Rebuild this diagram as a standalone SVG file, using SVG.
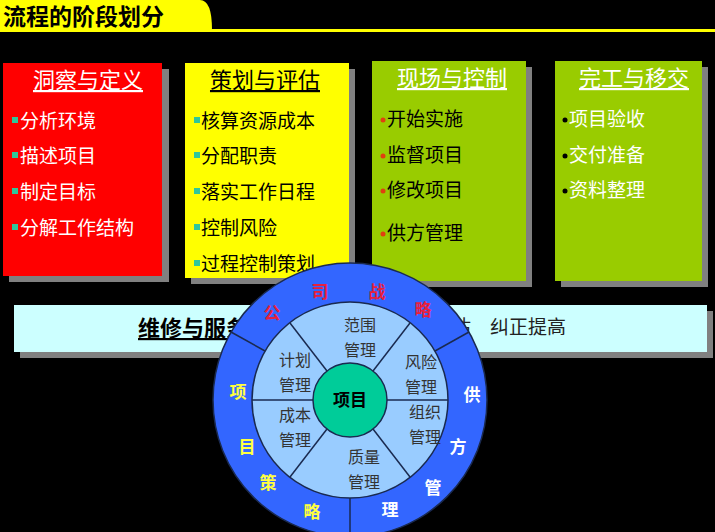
<svg xmlns="http://www.w3.org/2000/svg" width="715" height="532" viewBox="0 0 715 532">
<style>
text{font-family:"Noto Sans CJK SC","Noto Sans CJK JP",sans-serif}
.t{font-size:22px;text-decoration:underline;text-anchor:middle}
.i{font-size:19px}
.sh{fill:#808080}
.seg{font-size:16px;fill:#333;text-anchor:middle}
.o{font-size:17px;font-weight:bold;text-anchor:middle}
.ln{stroke:#1a2a50;stroke-width:1.5}
</style>
<rect width="715" height="532" fill="#000"/>
<g id="title">
<path d="M0 0H200Q212 0 212 30H0Z" fill="#ffff00"/>
<rect x="0" y="29" width="715" height="3" fill="#ffff00"/>
<text x="3" y="25" font-size="23" font-weight="bold" fill="#000">流程的阶段划分</text>
</g>
<g id="box1">
<rect x="9" y="69" width="160" height="213" class="sh"/>
<rect x="3" y="63" width="159" height="213" fill="#ff0000"/>
<text x="88" y="88" class="t" fill="#fff">洞察与定义</text>
<g fill="#2fc79a"><rect x="12" y="117" width="6" height="6"/><rect x="12" y="152" width="6" height="6"/><rect x="12" y="188" width="6" height="6"/><rect x="12" y="224" width="6" height="6"/></g>
<g class="i" fill="#fff"><text x="20" y="128">分析环境</text><text x="20" y="163">描述项目</text><text x="20" y="199">制定目标</text><text x="20" y="235">分解工作结构</text></g>
</g>
<g id="box2">
<rect x="191" y="69" width="164" height="215" class="sh"/>
<rect x="185" y="63" width="164" height="215" fill="#ffff00"/>
<text x="265" y="88" class="t" fill="#000">策划与评估</text>
<g fill="#2fc79a"><rect x="194" y="117" width="6" height="6"/><rect x="194" y="152" width="6" height="6"/><rect x="194" y="188" width="6" height="6"/><rect x="194" y="224" width="6" height="6"/><rect x="194" y="260" width="6" height="6"/></g>
<g class="i" fill="#000"><text x="201" y="128">核算资源成本</text><text x="201" y="163">分配职责</text><text x="201" y="199">落实工作日程</text><text x="201" y="235">控制风险</text><text x="201" y="271">过程控制策划</text></g>
</g>
<g id="box3">
<rect x="378" y="67" width="154" height="220" class="sh"/>
<rect x="372" y="61" width="154" height="220" fill="#99cc00"/>
<text x="452" y="86" class="t" fill="#fff">现场与控制</text>
<g fill="#e04010"><circle cx="383" cy="120" r="2.5"/><circle cx="383" cy="156" r="2.5"/><circle cx="383" cy="191" r="2.5"/><circle cx="383" cy="234" r="2.5"/></g>
<g class="i" fill="#000"><text x="387" y="126">开始实施</text><text x="387" y="162">监督项目</text><text x="387" y="197">修改项目</text><text x="387" y="240">供方管理</text></g>
</g>
<g id="box4">
<rect x="561" y="67" width="147" height="220" class="sh"/>
<rect x="555" y="61" width="147" height="220" fill="#99cc00"/>
<text x="634" y="86" class="t" fill="#fff">完工与移交</text>
<g fill="#000"><circle cx="565" cy="120" r="2.5"/><circle cx="565" cy="156" r="2.5"/><circle cx="565" cy="191" r="2.5"/></g>
<g class="i" fill="#fff"><text x="569" y="126">项目验收</text><text x="569" y="162">交付准备</text><text x="569" y="197">资料整理</text></g>
</g>
<g id="bar">
<rect x="20" y="311" width="693" height="47" class="sh"/>
<rect x="14" y="305" width="693" height="47" fill="#ccffff"/>
<text x="138" y="336" font-size="22" font-weight="bold" text-decoration="underline" fill="#000">维修与服务</text>
<text x="433" y="334" font-size="19" fill="#222">评估　纠正提高</text>
</g>
<g id="wheel">
<circle cx="350" cy="400" r="137" fill="#3366ff" stroke="#1a2a50" stroke-width="1.5"/>
<circle cx="350" cy="400" r="98" fill="#99ccff" stroke="#1a2a50" stroke-width="1.5"/>
<circle cx="350" cy="400" r="37" fill="#00cc99" stroke="#1a2a50" stroke-width="1.5"/>
<g id="connectors" class="ln">
<line x1="327" y1="371" x2="290" y2="323"/>
<line x1="373" y1="371" x2="410" y2="323"/>
<line x1="313" y1="400" x2="252" y2="400"/>
<line x1="387" y1="400" x2="448" y2="400"/>
<line x1="327" y1="429" x2="290" y2="477"/>
<line x1="373" y1="429" x2="410" y2="477"/>
<line x1="265" y1="351" x2="231" y2="332"/>
<line x1="435" y1="351" x2="469" y2="332"/>
<line x1="350" y1="498" x2="350" y2="537"/>
</g>
<text x="350" y="406" font-size="17" font-weight="bold" fill="#000" text-anchor="middle">项目</text>
<g class="seg">
<text x="360" y="331">范围</text><text x="360" y="356">管理</text>
<text x="295" y="366">计划</text><text x="295" y="391">管理</text>
<text x="421" y="368">风险</text><text x="421" y="393">管理</text>
<text x="295" y="421">成本</text><text x="295" y="446">管理</text>
<text x="425" y="418">组织</text><text x="425" y="443">管理</text>
<text x="364" y="463">质量</text><text x="364" y="488">管理</text>
</g>
<g class="o" fill="#e8203c"><text x="272" y="319">公</text><text x="320" y="298">司</text><text x="377" y="298">战</text><text x="423" y="316">略</text></g>
<g class="o" fill="#ffff40"><text x="238" y="398">项</text><text x="247" y="453">目</text><text x="268" y="489">策</text><text x="312" y="518">略</text></g>
<g class="o" fill="#fff"><text x="472" y="401">供</text><text x="458" y="453">方</text><text x="433" y="494">管</text><text x="390" y="516">理</text></g>
</g>
</svg>
